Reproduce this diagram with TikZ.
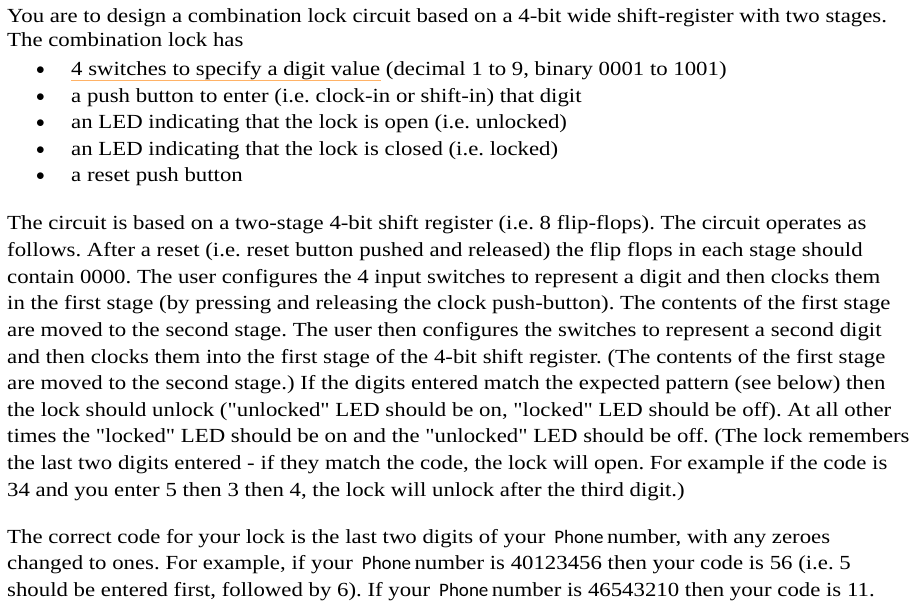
\documentclass[tikz,border=0pt]{standalone}
\usepackage{fontspec}
\setmainfont[FakeStretch=1.14]{Liberation Serif}
\newfontfamily\qfont[FakeStretch=1.14]{Liberation Serif}
\newfontfamily\phfont{Carlito}
\newcommand{\Ph}{\,{\phfont\fontsize{19pt}{22pt}\selectfont Phone}\,}
\newcommand{\qq}{{\qfont\symbol{34}}}
\frenchspacing
\begin{document}
\begin{tikzpicture}[x=1pt,y=1pt,
  tl/.style={anchor=base west,inner sep=0pt,font=\fontsize{20pt}{24pt}\selectfont},
  bl/.style={anchor=base west,inner sep=0pt,font=\fontsize{16pt}{20pt}\selectfont}]
\useasboundingbox (0,0) rectangle (916,-605);
\fill[white] (0,0) rectangle (916,-605);
\node[tl] (l1) at (7,-22) {You are to design a combination lock circuit based on a 4-bit wide shift-register with two stages.};
\node[tl] (l2) at (7,-46) {The combination lock has};
\foreach \y/\t [count=\i] in {75/{4 switches to specify a digit value (decimal 1 to 9, binary 0001 to 1001)},
 102/{a push button to enter (i.e. clock-in or shift-in) that digit},
 128/{an LED indicating that the lock is open (i.e. unlocked)},
 155/{an LED indicating that the lock is closed (i.e. locked)},
 181/{a reset push button}}{
 \node[bl] (b\i) at (36,-\y+1) {$\bullet$};
 \node[tl] (t\i) at (71,-\y) {\t};
}
\draw[orange!60,line width=0.8pt] (71,-80) -- (381,-80);
\node[tl] (p1) at (7,-229) {The circuit is based on a two-stage 4-bit shift register (i.e. 8 flip-flops). The circuit operates as};
\node[tl] (p2) at (7,-256) {follows. After a reset (i.e. reset button pushed and released) the flip flops in each stage should};
\node[tl] (p3) at (7,-283) {contain 0000. The user configures the 4 input switches to represent a digit and then clocks them};
\node[tl] (p4) at (7,-309) {in the first stage (by pressing and releasing the clock push-button). The contents of the first stage};
\node[tl] (p5) at (7,-336) {are moved to the second stage. The user then configures the switches to represent a second digit};
\node[tl] (p6) at (7,-363) {and then clocks them into the first stage of the 4-bit shift register. (The contents of the first stage};
\node[tl] (p7) at (7,-389) {are moved to the second stage.) If the digits entered match the expected pattern (see below) then};
\node[tl] (p8) at (7,-416) {the lock should unlock (\qq unlocked\qq{} LED should be on, \qq locked\qq{} LED should be off). At all other};
\node[tl] (p9) at (7,-442) {times the \qq locked\qq{} LED should be on and the \qq unlocked\qq{} LED should be off. (The lock remembers};
\node[tl] (p10) at (7,-469) {the last two digits entered - if they match the code, the lock will open. For example if the code is};
\node[tl] (p11) at (7,-496) {34 and you enter 5 then 3 then 4, the lock will unlock after the third digit.)};
\node[tl] (q1) at (7,-543) {The correct code for your lock is the last two digits of your \Ph number, with any zeroes};
\node[tl] (q2) at (7,-569) {changed to ones. For example, if your \Ph number is 40123456 then your code is 56 (i.e. 5};
\node[tl] (q3) at (7,-596) {should be entered first, followed by 6). If your \Ph number is 46543210 then your code is 11.};
\end{tikzpicture}
\end{document}
